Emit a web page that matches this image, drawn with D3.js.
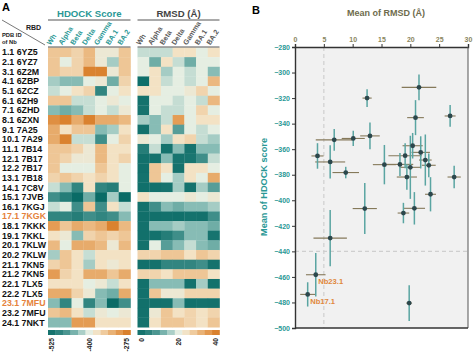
<!DOCTYPE html>
<html>
<head>
<meta charset="utf-8">
<script src="https://cdn.jsdelivr.net/npm/d3@7"></script>
<style>
  body { margin: 0; background: #fff; }
  svg text { font-family: "Liberation Sans", Arial, sans-serif; font-weight: bold; }
</style>
</head>
<body>
<svg id="canvas" width="474" height="353"></svg>
<script>
// ---------- data ----------
const variants = ['Wh', 'Alpha', 'Beta', 'Delta', 'Gamma', 'BA.1', 'BA.2'];
const nbIds = ['1.1 6YZ5','2.1 6YZ7','3.1 6Z2M','4.1 6ZBP','5.1 6ZCZ','6.1 6ZH9','7.1 6ZHD','8.1 6ZXN',
  '9.1 7A25','10.1 7A29','11.1 7B14','12.1 7B17','12.2 7B17','13.1 7B18','14.1 7C8V','15.1 7JVB',
  '16.1 7KGJ','17.1 7KGK','18.1 7KKK','19.1 7KKL','20.1 7KLW','20.2 7KLW','21.1 7KN5','21.2 7KN5',
  '22.1 7LX5','22.2 7LX5','23.1 7MFU','23.2 7MFU','24.1 7NKT'];
const highlighted = ['17.1 7KGK', '23.1 7MFU'];

// HDOCK score per Nb (rows) x variant (cols)
const hdock = [
  [-350,-350,-362,-338,-388,-388,-350],
  [-350,-400,-362,-338,-388,-425,-350],
  [-350,-362,-362,-288,-288,-388,-350],
  [-425,-438,-438,-400,-388,-450,-362],
  [-412,-400,-375,-362,-488,-400,-375],
  [-350,-350,-412,-412,-400,-388,-400],
  [-438,-450,-438,-412,-400,-412,-388],
  [-300,-288,-325,-288,-325,-325,-338],
  [-325,-375,-350,-350,-438,-425,-375],
  [-325,-288,-412,-412,-475,-400,-362],
  [-350,-350,-362,-388,-338,-375,-375],
  [-350,-362,-388,-388,-338,-375,-362],
  [-350,-400,-400,-400,-350,-375,-400],
  [-362,-350,-362,-375,-362,-375,-400],
  [-412,-438,-488,-375,-488,-500,-400],
  [-475,-500,-525,-450,-525,-425,-525],
  [-412,-400,-475,-350,-475,-375,-412],
  [-488,-488,-500,-475,-488,-475,-438],
  [-312,-350,-325,-338,-325,-288,-338],
  [-375,-388,-438,-362,-350,-362,-350],
  [-338,-400,-325,-325,-338,-388,-338],
  [-425,-350,-375,-412,-375,-375,-375],
  [-362,-350,-375,-425,-375,-388,-375],
  [-312,-362,-375,-325,-325,-350,-325],
  [-375,-375,-375,-400,-388,-412,-375],
  [-325,-325,-362,-388,-438,-450,-325],
  [-438,-488,-400,-488,-438,-525,-475],
  [-350,-338,-375,-412,-388,-400,-388],
  [-438,-438,-312,-312,-375,-375,-375]
];

// RMSD (Å) per Nb x variant
const rmsd = [
  [18,18,18,24,24,20,24],
  [20,12,24,18,12,20,20],
  [20,24,16,20,18,20,14],
  [0.8,24,18,20,18,20,30],
  [24,24,20,20,22,26,20],
  [1.5,20,20,18,20,18,30],
  [1.8,20,18,18,20,26,20],
  [16,14,18,34,20,24,24],
  [1.4,14,24,10,20,18,20],
  [22,20,16,24,26,18,16],
  [4,18,1.6,14,1.9,14,14],
  [1.3,1.5,14,2,2.2,8,18],
  [1.2,28,24,1.7,24,24,20],
  [1.5,28,20,16,24,20,32],
  [1.1,1.4,1.8,16,1.6,16,10],
  [24,20,20,20,22,20,22],
  [1.3,8,14,12,14,14,16],
  [1.0,1.2,1.4,1.1,1.5,1.3,8],
  [1.4,14,14,16,14,14,12],
  [1.2,1.5,4,8,14,14,2],
  [1.3,20,10,14,18,14,12],
  [26,26,28,28,24,28,26],
  [1.2,1.4,6,6,6,8,1.6],
  [26,26,24,28,28,28,24],
  [1.3,14,14,14,1.5,16,1.4],
  [1.4,28,22,22,26,26,26],
  [1.2,1.3,1.5,14,1.4,1.6,1.3],
  [1.3,22,28,24,26,24,26],
  [1.5,24,28,28,26,24,28]
];

const hdockTicks = [-525, -400, -275];
const rmsdTicks = [0, 20, 40];

// panel B: mean +- sd for each Nb
const meanRmsd = [12.5,21.5,20.9,26.9,3.9,6.8,10.1,13.0,6.1,8.8,15.5,18.2,19.1,20.4,21.8,22.6,23.2,20.0,19.4,23.5,27.6,12.1,18.8,20.7,6.1,3.6,2.2,19.8];
const sdRmsd = [0.8,3.0,1.45,0.95,1.05,3.2,2.0,1.7,2.6,2.3,2.0,2.3,2.9,1.75,1.6,1.1,1.2,1.85,1.75,0.95,1.15,2.1,1.0,1.85,2.9,1.7,1.3,0.5];
const meanHdock = [-320,-311.6,-335.3,-334,-365.3,-352.7,-351.6,-349.6,-370,-378.3,-372.1,-371.9,-365.1,-357.3,-362.5,-368.5,-372.6,-374.2,-381.8,-395.3,-381.8,-406.5,-410,-406.3,-429.6,-458.3,-473.7,-480.5];
const sdHdock = [7,10,13.7,8.5,10,8.5,6,10.5,13,4.5,15.4,9,9.8,10,12.6,20,9.3,24.7,10,13.4,8.8,20,8,12.7,22,17,9.5,14];
const pointLabels = {25: 'Nb23.1', 26: 'Nb17.1'};

// ---------- colours ----------
const stops = ['#0a6b66', '#3f8e89', '#8cbfb8', '#e5eee2', '#f3e2c4', '#eec696', '#e49d55', '#d4731b'];
const stopPos = [0, 0.2, 0.36, 0.5, 0.6, 0.7, 0.85, 1];
const tColor = d3.scaleLinear().domain(stopPos).range(stops).clamp(true);
const hdockColor = v => tColor((v + 525) / 250);
const rmsdColor = v => tColor(v / 40);

const teal = '#2a9896';
const olive = '#6e6b4c';

let canvas = d3.select('#canvas');

// ---------- panel A ----------
canvas.append('text').attr('x', 2).attr('y', 11).style('font-size', '11px').text('A');

let rowY = d3.scaleBand().domain(nbIds).range([47.5, 327.2]);

canvas.selectAll('.rowlab')
  .data(nbIds)
  .enter()
  .append('text')
  .attr('class', 'rowlab')
  .attr('x', 2)
  .attr('y', (d) => rowY(d) + rowY.bandwidth() / 2)
  .attr('dy', '0.36em')
  .style('font-size', '8.8px')
  .attr('fill', (d) => highlighted.includes(d) ? '#e5823a' : '#111')
  .text((d) => d);

// corner header
canvas.append('line').attr('x1', 2).attr('y1', 20).attr('x2', 45).attr('y2', 45)
  .attr('stroke', '#555').attr('stroke-width', 0.8);
canvas.append('text').attr('x', 26).attr('y', 30).style('font-size', '7px').attr('fill', '#222').text('RBD');
canvas.append('text').attr('x', 2).attr('y', 37).style('font-size', '5.8px').attr('fill', '#222').text('PDB ID');
canvas.append('text').attr('x', 2).attr('y', 44).style('font-size', '5.8px').attr('fill', '#222').text('of Nb');

let drawHeat = (x0, x1, values, colorFn, title, titleColor, labColor, tickVals) => {
  let colX = d3.scaleBand().domain(variants).range([x0, x1]);
  let g = canvas.append('g');
  nbIds.forEach((id, i) => {
    g.selectAll(null)
      .data(values[i])
      .enter()
      .append('rect')
      .attr('x', (v, j) => colX(variants[j]))
      .attr('y', rowY(id))
      .attr('width', colX.bandwidth() + 0.3)
      .attr('height', rowY.bandwidth() + 0.3)
      .attr('fill', (v) => colorFn(v));
  });
  // title and lines
  canvas.append('text').attr('x', (x0 + x1) / 2).attr('y', 17).attr('text-anchor', 'middle')
    .style('font-size', '9.6px').attr('fill', titleColor).text(title);
  canvas.append('line').attr('x1', x0).attr('x2', x1).attr('y1', 20).attr('y2', 20)
    .attr('stroke', '#555').attr('stroke-width', 1);
  canvas.append('line').attr('x1', x0).attr('x2', x1).attr('y1', 47).attr('y2', 47)
    .attr('stroke', '#555').attr('stroke-width', 1);
  canvas.selectAll(null)
    .data(variants)
    .enter()
    .append('text')
    .attr('transform', (d) => 'translate(' + (colX(d) + 2.5) + ',45.5) rotate(-57)')
    .style('font-size', '7.2px')
    .attr('fill', labColor)
    .text((d) => d);

  // colour bar
  let domain = [tickVals[0], tickVals[tickVals.length - 1]];
  let nBlocks = 11;
  let bw = (x1 - x0) / nBlocks;
  canvas.selectAll(null)
    .data(d3.range(nBlocks))
    .enter()
    .append('rect')
    .attr('x', (k) => x0 + k * bw)
    .attr('y', 330)
    .attr('width', bw + 0.3)
    .attr('height', 5)
    .attr('fill', (k) => colorFn(domain[0] + (k + 0.5) / nBlocks * (domain[1] - domain[0])));
  let cbX = d3.scaleLinear().domain(domain).range([x0 + 4, x1 - 4]);
  canvas.selectAll(null)
    .data(tickVals)
    .enter()
    .append('text')
    .attr('transform', (d) => 'translate(' + cbX(d) + ',338) rotate(-90)')
    .attr('text-anchor', 'end')
    .attr('dy', '0.35em')
    .style('font-size', '6.8px')
    .attr('fill', '#222')
    .text((d) => d);
};

drawHeat(48, 130.5, hdock, hdockColor, 'HDOCK Score', teal, teal, hdockTicks);
drawHeat(137.5, 219.5, rmsd, rmsdColor, 'RMSD (Å)', '#444', '#5a5a5a', rmsdTicks);

// ---------- panel B ----------
canvas.append('text').attr('x', 252).attr('y', 14).style('font-size', '11px').text('B');

let x = d3.scaleLinear().domain([0, 30]).range([295, 468]);
let y = d3.scaleLinear().domain([-280, -500]).range([47, 328]);

canvas.append('rect').attr('x', 295).attr('y', 47).attr('width', 173).attr('height', 281)
  .attr('fill', '#f1f1f1');

canvas.append('line').attr('x1', x(5)).attr('x2', x(5)).attr('y1', 47).attr('y2', 328)
  .attr('stroke', '#cfcfcf').attr('stroke-width', 1.2).attr('stroke-dasharray', '4,3');
canvas.append('line').attr('x1', 295).attr('x2', 468).attr('y1', y(-440)).attr('y2', y(-440))
  .attr('stroke', '#cfcfcf').attr('stroke-width', 1.2).attr('stroke-dasharray', '4,3');

let xAxis = canvas.append('g').attr('transform', 'translate(0,47)')
  .call(d3.axisTop(x).tickValues([0, 5, 10, 15, 20, 25, 30]).tickSize(3).tickPadding(2));
let yAxis = canvas.append('g').attr('transform', 'translate(295,0)')
  .call(d3.axisLeft(y).tickValues(d3.range(-280, -501, -20)).tickSize(3).tickPadding(2));
xAxis.selectAll('text').style('font-size', '7px').attr('fill', '#8a8660');
yAxis.selectAll('text').style('font-size', '7px').attr('fill', teal);
[xAxis, yAxis].forEach((a) => {
  a.select('.domain').attr('stroke', '#333').attr('stroke-width', 1.4);
  a.selectAll('.tick line').attr('stroke', '#333');
});
canvas.append('line').attr('x1', 468).attr('x2', 468).attr('y1', 47).attr('y2', 328)
  .attr('stroke', '#555').attr('stroke-width', 1);
canvas.append('line').attr('x1', 295).attr('x2', 468).attr('y1', 328).attr('y2', 328)
  .attr('stroke', '#333').attr('stroke-width', 1.4);

canvas.append('text').attr('x', 386).attr('y', 16).attr('text-anchor', 'middle')
  .style('font-size', '9px').attr('fill', olive).text('Mean of RMSD (Å)');
canvas.append('text').attr('transform', 'translate(267,187) rotate(-90)').attr('text-anchor', 'middle')
  .style('font-size', '9.2px').attr('fill', teal).text('Mean of HDOCK score');

let pts = meanRmsd.map((m, i) => ({ mx: m, sx: sdRmsd[i], my: meanHdock[i], sy: sdHdock[i], i: i }));

canvas.selectAll('.hbar')
  .data(pts)
  .enter()
  .append('line')
  .attr('x1', (d) => x(d.mx - d.sx))
  .attr('x2', (d) => x(d.mx + d.sx))
  .attr('y1', (d) => y(d.my))
  .attr('y2', (d) => y(d.my))
  .attr('stroke', '#85795a')
  .attr('stroke-width', 1.1);
canvas.selectAll('.vbar')
  .data(pts)
  .enter()
  .append('line')
  .attr('x1', (d) => x(d.mx))
  .attr('x2', (d) => x(d.mx))
  .attr('y1', (d) => y(d.my - d.sy))
  .attr('y2', (d) => y(d.my + d.sy))
  .attr('stroke', '#5aa5a2')
  .attr('stroke-width', 1.5);
canvas.selectAll('.pt')
  .data(pts)
  .enter()
  .append('circle')
  .attr('cx', (d) => x(d.mx))
  .attr('cy', (d) => y(d.my))
  .attr('r', 2.4)
  .attr('fill', '#2c474c');

canvas.selectAll('.plab')
  .data(pts.filter((d) => pointLabels[d.i]))
  .enter()
  .append('text')
  .attr('x', (d) => x(d.mx) + 2.5)
  .attr('y', (d) => y(d.my) + 9.5)
  .style('font-size', '7.6px')
  .attr('fill', '#e0883c')
  .text((d) => pointLabels[d.i]);
</script>
</body>
</html>
